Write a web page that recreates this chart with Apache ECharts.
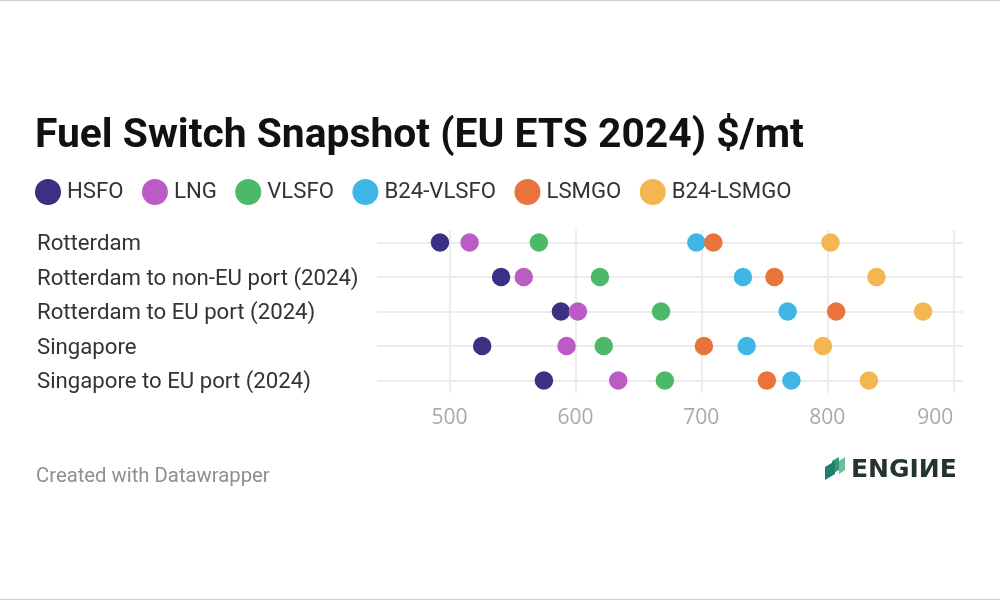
<!DOCTYPE html>
<html>
<head>
<meta charset="utf-8">
<title>Fuel Switch Snapshot</title>
<script src="https://cdn.jsdelivr.net/npm/echarts@6/dist/echarts.min.js"></script>
<style>
  html, body { margin: 0; padding: 0; background: #fff; }
  #chart { width: 1000px; height: 600px; }
</style>
</head>
<body>
<div id="chart"></div>
<script>
var ports = ["Rotterdam", "Rotterdam to non-EU port (2024)", "Rotterdam to EU port (2024)", "Singapore", "Singapore to EU port (2024)"];
var xTicks = [500, 600, 700, 800, 900];

var hsfo = [492.5, 541, 588.5, 526, 575];
var lng = [516, 559, 602, 593, 634];
var vlsfo = [571, 619.5, 668, 622.5, 671];
var b24Vlsfo = [696, 733, 768.5, 736, 771.5];
var lsmgo = [709.5, 758, 807, 702, 752];
var b24Lsmgo = [802.5, 839, 876, 796.5, 833];

var fuels = [
    { name: "HSFO", values: hsfo, color: "#3a3184" },
    { name: "LNG", values: lng, color: "#bb5bc6" },
    { name: "VLSFO", values: vlsfo, color: "#4cb968" },
    { name: "B24-VLSFO", values: b24Vlsfo, color: "#3fb6e6" },
    { name: "LSMGO", values: lsmgo, color: "#e8743b" },
    { name: "B24-LSMGO", values: b24Lsmgo, color: "#f4b650" }
];

var font = "Roboto";
var gridColor = "#ececec";

var myChart = echarts.init(document.getElementById("chart"));
myChart.setOption({
    backgroundColor: "#fff",
    animation: false,
    title: {
        text: "Fuel Switch Snapshot (EU ETS 2024) $/mt",
        left: 30,
        top: 111,
        textStyle: { fontFamily: font, fontSize: 40.8, fontWeight: "bold", color: "#111" }
    },
    legend: {
        left: 30,
        top: 174,
        itemWidth: 26,
        itemHeight: 26,
        itemGap: 18.4,
        icon: "circle",
        selectedMode: false,
        textStyle: { fontFamily: font, fontSize: 22.2, color: "#333", padding: [0, 0, 0, 1] },
        data: fuels.map(function (f) { return f.name; })
    },
    grid: { left: 377, right: 37, top: 230, bottom: 207 },
    xAxis: {
        type: "value",
        min: 442.5,
        max: 907.7,
        axisLine: { show: false },
        axisTick: { show: false, customValues: xTicks },
        splitLine: { show: true, lineStyle: { color: gridColor, width: 2 } },
        axisLabel: {
            customValues: xTicks,
            alignMaxLabel: "right",
            margin: 15,
            fontFamily: "Open Sans",
            fontSize: 21,
            color: "#aaa"
        }
    },
    yAxis: {
        type: "value",
        inverse: true,
        min: -0.36,
        max: 4.36,
        axisLine: { show: false },
        axisTick: { show: false, customValues: [0, 1, 2, 3, 4] },
        splitLine: { show: true, lineStyle: { color: gridColor, width: 2 } },
        axisLabel: {
            customValues: [0, 1, 2, 3, 4],
            align: "left",
            margin: 340,
            formatter: function (v) { return "{port|" + ports[v] + "}"; },
            rich: {
                port: { fontFamily: font, fontSize: 22.2, color: "#333", padding: [4, 0, 0, 0] }
            }
        }
    },
    series: fuels.map(function (f) {
        return {
            name: f.name,
            type: "scatter",
            symbol: "circle",
            symbolSize: 18.5,
            itemStyle: { color: f.color, opacity: 1 },
            data: f.values.map(function (v, i) { return [v, i]; })
        };
    }),
    graphic: [
        { type: "rect", shape: { x: 0, y: 0, width: 1000, height: 1 }, style: { fill: "#cfcfcf" } },
        { type: "rect", shape: { x: 0, y: 599, width: 1000, height: 1 }, style: { fill: "#cfcfcf" } },
        {
            type: "text", left: 36, top: 467,
            style: { text: "Created with Datawrapper", fontFamily: font, fontSize: 20.3, fill: "#8f8f8f" }
        },
        // logo
        { type: "polygon", shape: { points: [[839, 461], [845, 457], [845, 470], [839, 474]] }, style: { fill: "#6cbc9f" } },
        { type: "polygon", shape: { points: [[832, 461], [839, 457], [839, 470], [832, 474]] }, style: { fill: "#2f9a7c" } },
        { type: "polygon", shape: { points: [[825, 467], [835, 461], [835, 474], [825, 480]] }, style: { fill: "#1f7f68" } },
        {
            type: "text", left: 851, top: 458,
            style: { text: "ENGIИE", fontFamily: "DejaVu Sans", fontSize: 25, fontWeight: "bold", fill: "#24342f" }
        }
    ]
});
</script>
</body>
</html>
